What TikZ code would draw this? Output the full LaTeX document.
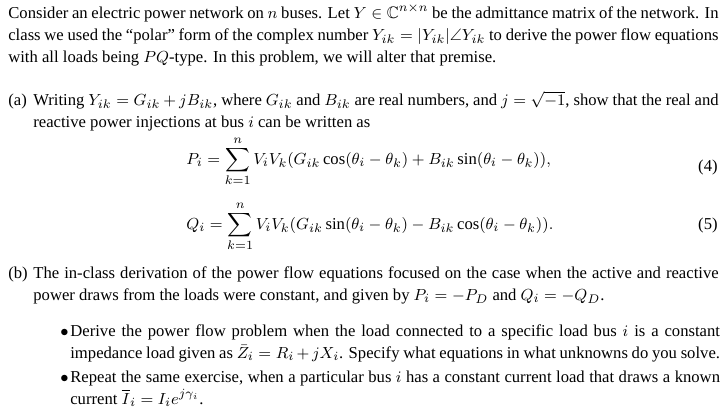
\documentclass[tikz,border=0pt]{standalone}
\usepackage{amsmath,amssymb}
\usepackage{fontspec}
\setmainfont{Liberation Serif}
\begin{document}
\begin{tikzpicture}[x=0.5618pt,y=-0.5618pt,
  para/.style={anchor=base west,inner sep=0pt,align=justify,font=\fontsize{9.35}{12.4}\selectfont},
  lab/.style={anchor=base west,inner sep=0pt,font=\fontsize{9.35}{12.4}\selectfont}]
\useasboundingbox (0,0) rectangle (727,412);
\node[para,text width=399pt] (p1) at (8,18) {Consider an electric power network on $n$ buses. Let $Y\in\mathbb{C}^{n\times n}$ be the admittance matrix of the network. In class we used the ``polar'' form of the complex number $Y_{ik}=|Y_{ik}|\angle Y_{ik}$ to derive the power flow equations with all loads being $PQ$-type. In this problem, we will alter that premise.};
\node[lab] (la) at (8,105) {(a)};
\node[para,text width=385pt] (ta) at (33,105) {Writing $Y_{ik}=G_{ik}+jB_{ik}$, where $G_{ik}$ and $B_{ik}$ are real numbers, and $j=\sqrt{-1}$, show that the real and reactive power injections at bus $i$ can be written as};
\node[lab] (e4) at (186,164) {$\displaystyle P_i=\sum_{k=1}^{n}V_iV_k(G_{ik}\cos(\theta_i-\theta_k)+B_{ik}\sin(\theta_i-\theta_k)),$};
\node[lab,anchor=base east] (n4) at (718,171) {(4)};
\node[lab] (e5) at (186,229) {$\displaystyle Q_i=\sum_{k=1}^{n}V_iV_k(G_{ik}\sin(\theta_i-\theta_k)-B_{ik}\cos(\theta_i-\theta_k)).$};
\node[lab,anchor=base east] (n5) at (718,229) {(5)};
\node[lab] (lb) at (8,278) {(b)};
\node[para,text width=385pt] (tb) at (33,278) {The in-class derivation of the power flow equations focused on the case when the active and reactive power draws from the loads were constant, and given by $P_i=-P_D$ and $Q_i=-Q_D$.};
\node[lab] (b1) at (60,336) {$\bullet$};
\node[para,text width=365pt] (t1) at (70,336) {Derive the power flow problem when the load connected to a specific load bus $i$ is a constant impedance load given as $\bar{Z}_i=R_i+jX_i$. Specify what equations in what unknowns do you solve.};
\node[lab] (b2) at (60,382) {$\bullet$};
\node[para,text width=365pt] (t2) at (70,382) {Repeat the same exercise, when a particular bus $i$ has a constant current load that draws a known current $\overline{I}_i=I_ie^{j\gamma_i}$.};
\end{tikzpicture}
\end{document}
